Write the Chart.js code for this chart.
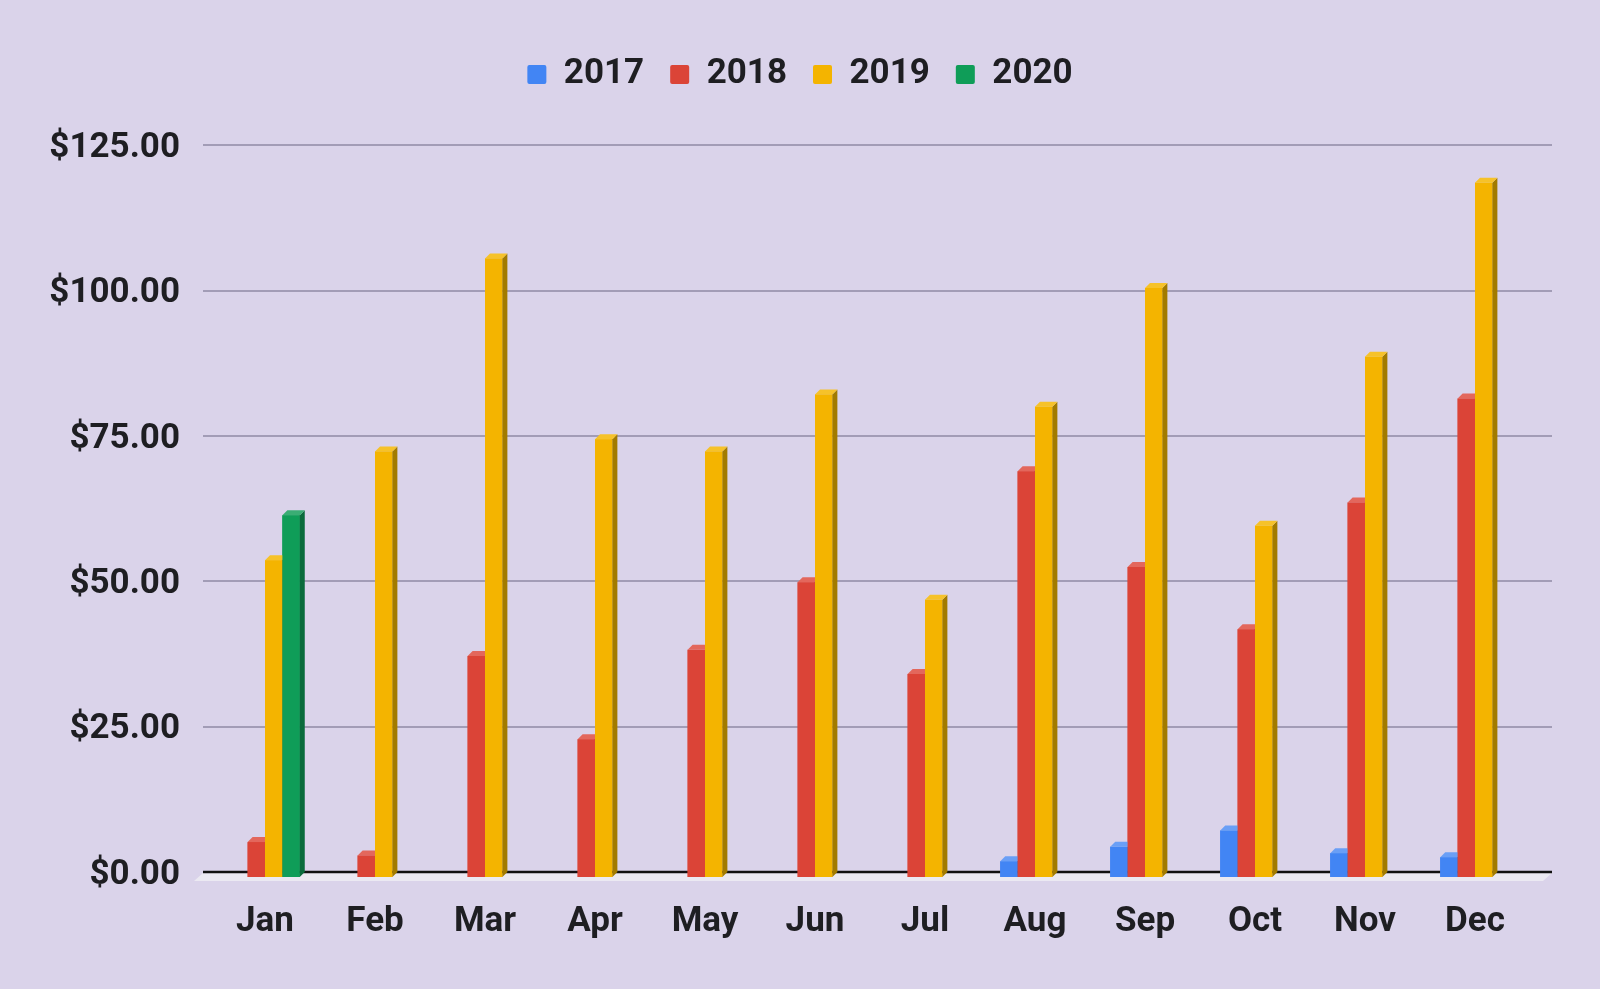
<!DOCTYPE html>
<html>
<head>
<meta charset="utf-8">
<script src="https://cdn.jsdelivr.net/npm/chart.js@4/dist/chart.umd.min.js"></script>
<style>
  html, body { margin: 0; padding: 0; background: #dad3ea; }
  #wrap { width: 1600px; height: 989px; }
</style>
</head>
<body>
<div id="wrap"><canvas id="c" width="1600" height="989"></canvas></div>
<script>
// ---- data ----
const months = ['Jan', 'Feb', 'Mar', 'Apr', 'May', 'Jun', 'Jul', 'Aug', 'Sep', 'Oct', 'Nov', 'Dec'];
const seriesNames = ['2017', '2018', '2019', '2020'];
const values2017 = [null, null, null, null, null, null, null, 2.7, 5.2, 8.0, 4.1, 3.4];
const values2018 = [6.0, 3.7, 38.0, 23.7, 39.1, 50.7, 34.9, 69.8, 53.3, 42.6, 64.4, 82.3];
const values2019 = [54.5, 73.2, 106.4, 75.3, 73.2, 83.0, 47.7, 80.9, 101.3, 60.4, 89.5, 119.4];
const values2020 = [62.2, null, null, null, null, null, null, null, null, null, null, null];
const yTickValues = [0, 25, 50, 75, 100, 125];

// ---- styles ----
const frontColors = ['#4285f4', '#db4437', '#f4b400', '#0f9d58'];
const topColors   = ['#6a9ff6', '#e3675c', '#f6c229', '#3aad74'];
const sideColors  = ['#2c5fb3', '#9b2f26', '#a27b00', '#0a6b3c'];
const BG = '#dad3ea';
const GRID = '#a29cb6';
const TEXT = '#1e1e22';
const FONT = 'Roboto';
const D = 5; // 3D depth

const allSeries = [values2017, values2018, values2019, values2020];

const threeD = {
  id: 'threeD',
  beforeDraw(chart) {
    const ctx = chart.ctx;
    ctx.save();
    ctx.fillStyle = BG;
    ctx.fillRect(0, 0, chart.width, chart.height);
    ctx.restore();
  },
  beforeDatasetsDraw(chart) {
    const ctx = chart.ctx;
    const ys = chart.scales.y;
    const area = chart.chartArea;
    const gl = area.left - 7, gr = area.right + 22;
    ctx.save();
    // back-wall gridlines
    ctx.strokeStyle = GRID;
    ctx.lineWidth = 2;
    yTickValues.forEach(v => {
      if (v === 0) return;
      const py = Math.round(ys.getPixelForValue(v) - D);
      ctx.beginPath();
      ctx.moveTo(gl, py);
      ctx.lineTo(gr, py);
      ctx.stroke();
    });
    // floor
    const base = ys.getPixelForValue(0);
    ctx.fillStyle = '#ebe9f2';
    ctx.beginPath();
    ctx.moveTo(gl, base - 4);
    ctx.lineTo(gr, base - 4);
    ctx.lineTo(area.right + 13, base + 4);
    ctx.lineTo(area.left - 16, base + 4);
    ctx.closePath();
    ctx.fill();
    // axis line at back
    ctx.strokeStyle = '#111111';
    ctx.lineWidth = 2.5;
    ctx.beginPath();
    ctx.moveTo(gl, base - D);
    ctx.lineTo(gr, base - D);
    ctx.stroke();
    ctx.restore();
  },
  afterDatasetsDraw(chart) {
    const ctx = chart.ctx;
    const metas = chart.getSortedVisibleDatasetMetas().slice().sort((a, b) => a.index - b.index);
    ctx.save();
    for (let j = 0; j < months.length; j++) {
      for (const meta of metas) {
        const raw = chart.data.datasets[meta.index].data[j];
        if (raw === null || raw === undefined) continue;
        const el = meta.data[j];
        const p = el.getProps(['x', 'y', 'base', 'width'], true);
        const l = p.x - p.width / 2, r = p.x + p.width / 2;
        el.draw(ctx);
        ctx.fillStyle = sideColors[meta.index];
        ctx.beginPath();
        ctx.moveTo(r, p.y);
        ctx.lineTo(r + D, p.y - D);
        ctx.lineTo(r + D, p.base - D);
        ctx.lineTo(r, p.base);
        ctx.closePath();
        ctx.fill();
        ctx.fillStyle = topColors[meta.index];
        ctx.beginPath();
        ctx.moveTo(l, p.y);
        ctx.lineTo(l + D, p.y - D);
        ctx.lineTo(r + D, p.y - D);
        ctx.lineTo(r, p.y);
        ctx.closePath();
        ctx.fill();
      }
    }
    ctx.restore();
  }
};

function build() {
  new Chart(document.getElementById('c'), {
    type: 'bar',
    data: {
      labels: months,
      datasets: seriesNames.map((name, i) => ({
        label: name,
        data: allSeries[i],
        backgroundColor: frontColors[i],
        borderWidth: 0,
        categoryPercentage: 0.632,
        barPercentage: 1.0
      }))
    },
    options: {
      responsive: false,
      devicePixelRatio: 1,
      animation: false,
      layout: { padding: { top: 31, right: 0, bottom: 22, left: 0 } },
      plugins: {
        legend: {
          position: 'top',
          labels: {
            boxWidth: 19,
            boxHeight: 19,
            padding: 26,
            color: TEXT,
            font: { family: FONT, size: 35, weight: 'bold' },
            useBorderRadius: true,
            borderRadius: 2
          }
        },
        tooltip: { enabled: false }
      },
      scales: {
        x: {
          grid: { display: false, drawTicks: false },
          border: { display: false },
          ticks: {
            color: TEXT,
            font: { family: FONT, size: 35, weight: 'bold' },
            padding: 24,
            maxRotation: 0,
            autoSkip: false
          }
        },
        y: {
          min: 0,
          max: 133.3,
          grid: { display: false, drawTicks: false },
          border: { display: false },
          afterBuildTicks(scale) {
            scale.ticks = yTickValues.map(v => ({ value: v }));
          },
          afterFit(scale) { scale.width = 210; },
          ticks: {
            color: TEXT,
            font: { family: FONT, size: 35, weight: 'bold' },
            padding: 30,
            labelOffset: -2,
            callback: v => '$' + Number(v).toFixed(2)
          }
        },
        yRightSpace: {
          position: 'right',
          display: true,
          grid: { display: false, drawTicks: false },
          border: { display: false },
          ticks: { display: false },
          afterFit(scale) { scale.width = 70; }
        }
      }
    },
    plugins: [threeD]
  });
}

if (document.fonts && document.fonts.load) {
  document.fonts.load('bold 35px Roboto').then(build, build);
} else {
  build();
}
</script>
</body>
</html>
